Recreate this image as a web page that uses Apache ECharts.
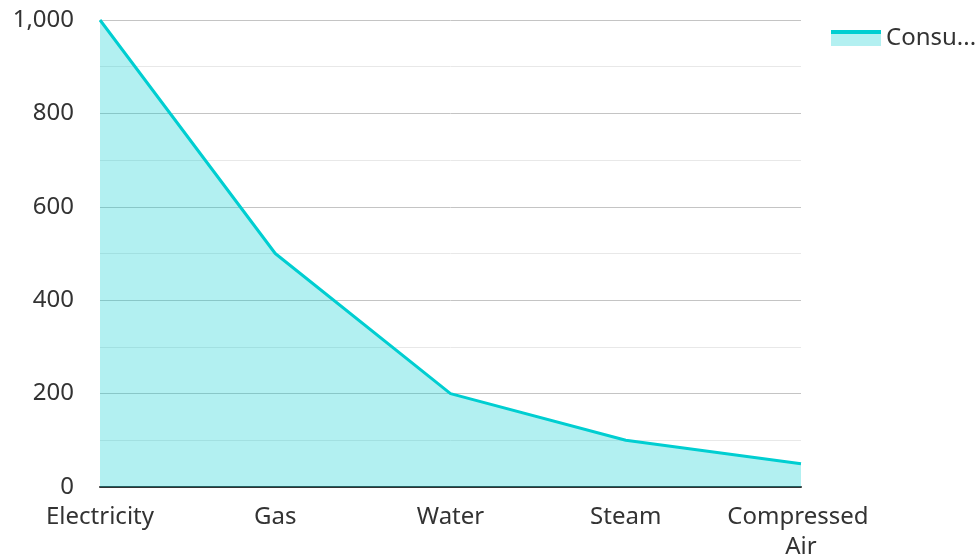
<!DOCTYPE html>
<html>
<head>
<meta charset="utf-8">
<script src="https://cdn.jsdelivr.net/npm/echarts@6/dist/echarts.min.js"></script>
<style>
  html, body { margin: 0; padding: 0; background: #fff; }
  #chart { width: 979px; height: 559px; }
</style>
</head>
<body>
<div id="chart"></div>
<script>
// Energy consumption by utility type
const categories = ['Electricity', 'Gas', 'Water', 'Steam', 'Compressed Air'];
const consumption = [1000, 500, 200, 100, 50];
const seriesName = 'Consumption';

const lineColor = '#00CED1';
const fontFamily = '"Noto Sans", "Open Sans", sans-serif';
const labelSize = 24;

const chart = echarts.init(document.getElementById('chart'));
chart.setOption({
  animation: false,
  textStyle: { fontFamily: fontFamily },
  grid: {
    left: 100, right: 178, top: 20, bottom: 72,
    containLabel: false,
    outerBoundsMode: 'none'
  },
  legend: {
    data: [seriesName],
    left: 826,
    top: 21,
    itemWidth: 50,
    itemHeight: 16,
    itemGap: 10,
    icon: 'rect',
    itemStyle: {
      color: {
        type: 'linear', x: 0, y: 0, x2: 0, y2: 1,
        colorStops: [
          { offset: 0, color: lineColor },
          { offset: 0.22, color: lineColor },
          { offset: 0.22, color: '#b3f0f1' },
          { offset: 1, color: '#b3f0f1' }
        ]
      },
      borderWidth: 0
    },
    textStyle: {
      fontSize: labelSize,
      color: '#333',
      fontFamily: fontFamily,
      width: 100,
      overflow: 'truncate',
      ellipsis: '...'
    }
  },
  xAxis: {
    type: 'category',
    data: categories,
    boundaryGap: false,
    axisLine: { show: true, lineStyle: { color: '#333', width: 2 } },
    axisTick: { show: false },
    splitLine: { show: false },
    axisLabel: {
      fontSize: labelSize,
      color: '#333',
      margin: 15,
      lineHeight: 30,
      width: 160,
      overflow: 'break',
      interval: 0
    }
  },
  yAxis: {
    type: 'value',
    min: 0,
    max: 1000,
    interval: 200,
    axisLine: { show: false },
    axisTick: { show: false },
    axisLabel: { fontSize: labelSize, color: '#333', margin: 26 },
    splitLine: { show: true, lineStyle: { color: '#c4c4c4', width: 1 } },
    minorTick: { show: false, splitNumber: 2 },
    minorSplitLine: { show: true, lineStyle: { color: '#e8e8e8', width: 1 } }
  },
  series: [{
    name: seriesName,
    type: 'line',
    data: consumption,
    symbol: 'none',
    lineStyle: { color: lineColor, width: 3 },
    itemStyle: { color: lineColor },
    areaStyle: { color: lineColor, opacity: 0.3 }
  }]
});
</script>
</body>
</html>
